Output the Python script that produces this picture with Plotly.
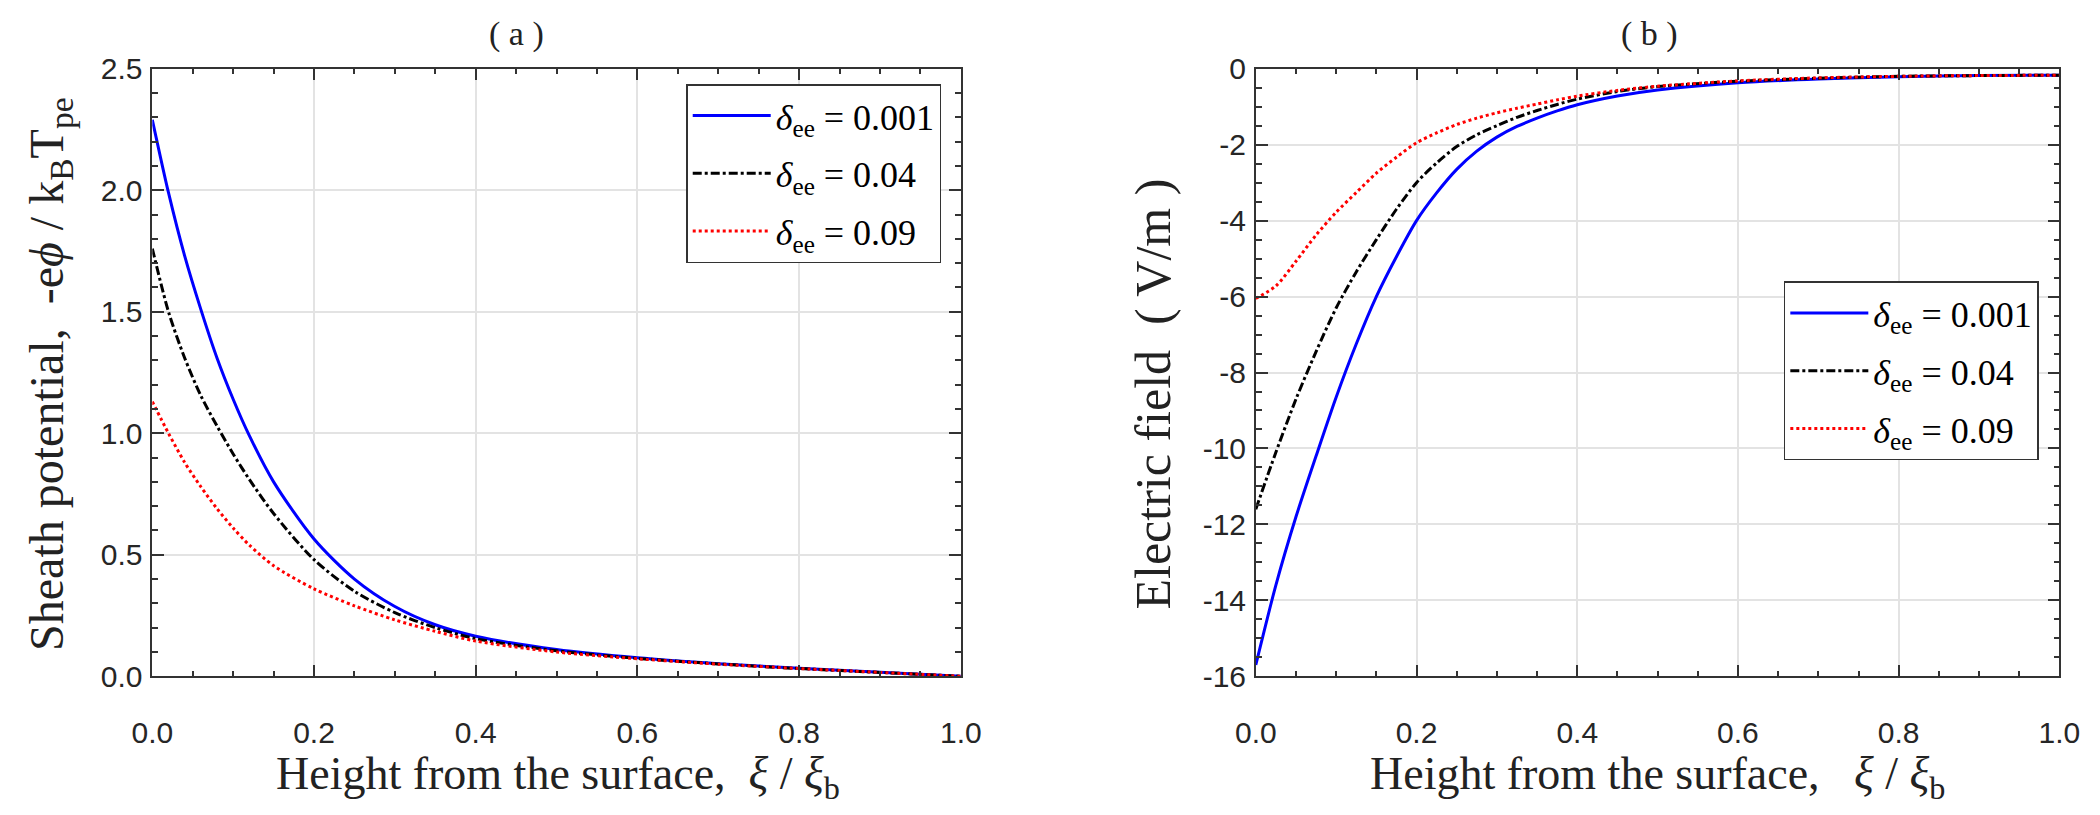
import plotly.graph_objects as go

# ---------------- data ----------------
xi_a = [0.0, 0.02, 0.04, 0.06, 0.08, 0.10, 0.12, 0.15, 0.20, 0.25, 0.30, 0.35,
        0.40, 0.50, 0.60, 0.70, 0.80, 0.90, 1.00]
phi_001 = [2.29, 1.99, 1.73, 1.51, 1.31, 1.14, 0.99, 0.80, 0.565, 0.40, 0.287, 0.212,
           0.165, 0.110, 0.076, 0.052, 0.033, 0.017, 0.0]
phi_004 = [1.76, 1.50, 1.31, 1.155, 1.03, 0.915, 0.81, 0.67, 0.48, 0.35, 0.262, 0.20,
           0.155, 0.105, 0.074, 0.051, 0.032, 0.016, 0.0]
phi_009 = [1.13, 1.00, 0.88, 0.78, 0.69, 0.61, 0.54, 0.455, 0.36, 0.29, 0.232, 0.185,
           0.145, 0.100, 0.072, 0.050, 0.032, 0.016, 0.0]

xi_b = [0.0, 0.025, 0.05, 0.075, 0.10, 0.125, 0.15, 0.175, 0.20, 0.225, 0.25, 0.275,
        0.30, 0.325, 0.35, 0.375, 0.40, 0.45, 0.50, 0.60, 0.70, 0.80, 0.90, 1.00]
E_001 = [-15.7, -13.6, -11.8, -10.2, -8.65, -7.25, -6.0, -4.95, -4.0, -3.27, -2.65, -2.17,
         -1.8, -1.52, -1.3, -1.11, -0.95, -0.72, -0.56, -0.37, -0.27, -0.21, -0.18, -0.17]
E_004 = [-11.6, -10.1, -8.7, -7.45, -6.3, -5.35, -4.5, -3.7, -3.0, -2.48, -2.05, -1.74,
         -1.5, -1.28, -1.1, -0.94, -0.8, -0.6, -0.47, -0.33, -0.25, -0.20, -0.18, -0.17]
E_009 = [-6.05, -5.72, -5.07, -4.38, -3.78, -3.26, -2.75, -2.33, -1.95, -1.69, -1.47, -1.30,
         -1.16, -1.04, -0.93, -0.82, -0.72, -0.57, -0.46, -0.32, -0.24, -0.20, -0.18, -0.17]

series_names = ["<i>δ</i><sub>ee</sub> = 0.001",
                "<i>δ</i><sub>ee</sub> = 0.04",
                "<i>δ</i><sub>ee</sub> = 0.09"]

x_ticks = [0.0, 0.2, 0.4, 0.6, 0.8, 1.0]
x_ticktext = ["0.0", "0.2", "0.4", "0.6", "0.8", "1.0"]
ya_ticks = [0.0, 0.5, 1.0, 1.5, 2.0, 2.5]
ya_ticktext = ["0.0", "0.5", "1.0", "1.5", "2.0", "2.5"]
yb_ticks = [0, -2, -4, -6, -8, -10, -12, -14, -16]
yb_ticktext = ["0", "-2", "-4", "-6", "-8", "-10", "-12", "-14", "-16"]

# ---------------- figure ----------------
W, H = 2100, 815
def px(x):
    return x / W
def py(y):
    return 1 - y / H

colors = ["#0000ff", "#000000", "#ff0000"]
dashes = ["solid", "dashdot", "dot"]

fig = go.Figure()
for vals, name, c, d in zip([phi_001, phi_004, phi_009], series_names, colors, dashes):
    fig.add_trace(go.Scatter(x=xi_a, y=vals, mode="lines", name=name,
                             line=dict(color=c, width=3, dash=d, shape="spline", smoothing=0.8),
                             xaxis="x", yaxis="y", legend="legend", legendgroup="a" + name))
for vals, name, c, d in zip([E_001, E_004, E_009], series_names, colors, dashes):
    fig.add_trace(go.Scatter(x=xi_b, y=vals, mode="lines", name=name,
                             line=dict(color=c, width=3, dash=d, shape="spline", smoothing=0.8),
                             xaxis="x2", yaxis="y2", legend="legend2", legendgroup="b" + name))

axcol = "#333333"
tickfont = dict(family="Liberation Sans", size=30, color="#262626")
common = dict(showline=True, linecolor=axcol, linewidth=1.5, mirror="ticks",
              ticks="inside", ticklen=12, tickwidth=1.5, tickcolor=axcol,
              showgrid=True, gridcolor="#e3e3e3", gridwidth=1.5, zeroline=False,
              tickfont=tickfont)

legend_common = dict(bgcolor="white", bordercolor=axcol, borderwidth=1.5,
                     font=dict(family="Liberation Serif", size=36, color="black"),
                     tracegroupgap=8, itemwidth=78)

fig.update_layout(
    width=W, height=H, margin=dict(l=0, r=0, t=0, b=0),
    paper_bgcolor="white", plot_bgcolor="white", showlegend=True,
    xaxis=dict(domain=[px(134), px(959)], range=[0, 1], anchor="y",
               tickvals=x_ticks, ticktext=x_ticktext, ticklabelstandoff=29,
               minor=dict(ticks="inside", dtick=0.05, ticklen=6, tickwidth=1.5, tickcolor=axcol, showgrid=False),
               **common),
    yaxis=dict(domain=[py(688), py(54)], range=[0, 2.5], anchor="x",
               tickvals=ya_ticks, ticktext=ya_ticktext, ticklabelstandoff=2,
               minor=dict(ticks="inside", dtick=0.1, ticklen=6, tickwidth=1.5, tickcolor=axcol, showgrid=False),
               **common),
    xaxis2=dict(domain=[px(1260), px(2080)], range=[0, 1], anchor="y2",
                tickvals=x_ticks, ticktext=x_ticktext, ticklabelstandoff=29,
                minor=dict(ticks="inside", dtick=0.05, ticklen=6, tickwidth=1.5, tickcolor=axcol, showgrid=False),
                **common),
    yaxis2=dict(domain=[py(688), py(54)], range=[-16, 0], anchor="x2",
                tickvals=yb_ticks, ticktext=yb_ticktext, ticklabelstandoff=2,
                minor=dict(ticks="inside", dtick=0.5, ticklen=6, tickwidth=1.5, tickcolor=axcol, showgrid=False),
                **common),
    legend=dict(x=px(939), xanchor="right", y=py(70), yanchor="top", **legend_common),
    legend2=dict(x=px(2059), xanchor="right", y=py(276), yanchor="top", **legend_common),
)

serif = "Liberation Serif"
ann = [
    dict(text="( a )", x=px(506), y=py(18), font=dict(family=serif, size=34, color="#222")),
    dict(text="( b )", x=px(1662), y=py(18), font=dict(family=serif, size=34, color="#222")),
    dict(text="Height from the surface,&nbsp;&nbsp;<i>ξ</i> / <i>ξ</i><sub>b</sub>",
         x=px(548), y=py(793), font=dict(family=serif, size=46, color="#222")),
    dict(text="Height from the surface,&nbsp;&nbsp;&nbsp;<i>ξ</i> / <i>ξ</i><sub>b</sub>",
         x=px(1670), y=py(793), font=dict(family=serif, size=46, color="#222")),
    dict(text="Sheath potential,&nbsp;&nbsp;-e<i>ϕ</i> / k<sub>B</sub>T<sub>pe</sub>",
         x=px(30), y=py(372), textangle=-90, font=dict(family=serif, size=48, color="#222")),
    dict(text="Electric field&nbsp;&nbsp;( V/m )",
         x=px(1155), y=py(393), textangle=-90, font=dict(family=serif, size=50, color="#222")),
]
for a in ann:
    a.update(xref="paper", yref="paper", showarrow=False, xanchor="center", yanchor="middle")
fig.update_layout(annotations=ann)

fig.write_html("out.html")
